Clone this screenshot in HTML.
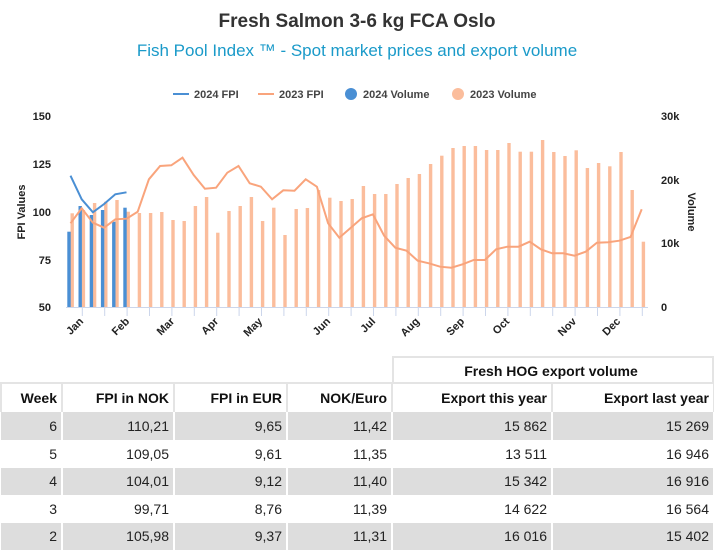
<!DOCTYPE html>
<html><head><meta charset="utf-8"><style>
body{margin:0;width:714px;height:556px;background:#fff;font-family:"Liberation Sans",Arial,sans-serif;position:relative;overflow:hidden}
.c{position:absolute;font-size:14px;color:#222;text-align:right;box-sizing:border-box;padding-right:4px;line-height:27px;border-right:2px solid #e4e4e4}
.h{font-weight:bold;color:#111}
</style></head><body>
<svg id="s" width="714" height="345" style="position:absolute;left:0;top:0" font-family="Liberation Sans, Arial, sans-serif"></svg>
<div id="t"></div>
<script>
var s=document.getElementById('s'),h='';
h+='<text x="357" y="27" text-anchor="middle" font-size="19" font-weight="bold" fill="#333">Fresh Salmon 3-6 kg FCA Oslo</text>';
h+='<text x="357" y="56" text-anchor="middle" font-size="17" fill="#1a9ac9">Fish Pool Index ™ - Spot market prices and export volume</text>';
// legend
h+='<line x1="173" y1="94" x2="189" y2="94" stroke="#4a8fd4" stroke-width="2"/><text x="194" y="98" font-size="11" font-weight="bold" fill="#444">2024 FPI</text>';
h+='<line x1="258" y1="94" x2="274" y2="94" stroke="#f9a47c" stroke-width="2"/><text x="279" y="98" font-size="11" font-weight="bold" fill="#444">2023 FPI</text>';
h+='<circle cx="351" cy="94" r="6" fill="#4a8fd4"/><text x="363" y="98" font-size="11" font-weight="bold" fill="#444">2024 Volume</text>';
h+='<circle cx="458" cy="94" r="6" fill="#fbbd9c"/><text x="470" y="98" font-size="11" font-weight="bold" fill="#444">2023 Volume</text>';
// axes labels
[[150,120],[125,168],[100,216],[75,264],[50,311]].forEach(function(a){h+='<text x="51" y="'+a[1]+'" text-anchor="end" font-size="11" font-weight="bold" fill="#222">'+a[0]+'</text>';});
[['30k',120],['20k',184],['10k',247],['0',311]].forEach(function(a){h+='<text x="661" y="'+a[1]+'" font-size="11" font-weight="bold" fill="#222">'+a[0]+'</text>';});
h+='<text transform="translate(25,212) rotate(-90)" text-anchor="middle" font-size="11" font-weight="bold" fill="#222">FPI Values</text>';
h+='<text transform="translate(688,212) rotate(90)" text-anchor="middle" font-size="11" font-weight="bold" fill="#222">Volume</text>';
// bars 2023
var t23=[213.3,210,203,201.7,200,211.7,213,213,212,220,221,206,197,232.7,211,206,197,221,207.7,235,209,208,190,197.7,201,199,186,194,194,184,178,174,164,155.7,148,146,146,150,150,143,151.7,151.7,140,152,156,150.3,168,163,166.3,152,190,241.7];
t23.forEach(function(y,i){var x=70.5+11.2*i;h+='<rect x="'+x+'" y="'+y+'" width="3.4" height="'+(307-y)+'" fill="#fbbd9c"/>';});
var t24=[231.7,206,215,210,221.7,207.7];
t24.forEach(function(y,i){var x=67.3+11.2*i;h+='<rect x="'+x+'" y="'+y+'" width="3.4" height="'+(307-y)+'" fill="#4a8fd4"/>';});
// axis
h+='<line x1="66" y1="307.5" x2="648" y2="307.5" stroke="#ccd6eb" stroke-width="1"/>';
for(var k=0;k<26;k++){var x=82.3+22.4*k;h+='<line x1="'+x+'" y1="307" x2="'+x+'" y2="316" stroke="#ccd6eb"/>';}
// lines
var l23=[223.3,208.3,222.7,227.7,219.3,218.7,211.7,179.3,166,165.3,157.7,175,188.7,187.7,172.7,166,183.3,186.7,199.3,190.3,190.7,179.3,186.7,223.3,237.7,228,218.3,214.3,235.7,247.7,250.7,260.7,263.3,266.7,267.7,264.3,260,260,249.3,246.7,246.7,241.7,249.3,253.3,253.3,255.7,251.7,242.7,242.3,240.7,237,209.3];
var p=l23.map(function(y,i){return (70.5+11.2*i).toFixed(1)+','+y}).join(' ');
h+='<polyline points="'+p+'" fill="none" stroke="#f9a47c" stroke-width="2"/>';
var l24=[175.7,199.3,212.3,204,194.3,192.3];
p=l24.map(function(y,i){return (70.5+11.2*i).toFixed(1)+','+y}).join(' ');
h+='<polyline points="'+p+'" fill="none" stroke="#4a8fd4" stroke-width="2"/>';
// months
[['Jan',84],['Feb',130],['Mar',175],['Apr',219],['May',263],['Jun',331],['Jul',376],['Aug',420],['Sep',465],['Oct',510],['Nov',577],['Dec',621]].forEach(function(m){
h+='<text transform="translate('+m[1]+',322) rotate(-45)" text-anchor="end" font-size="11" font-weight="bold" fill="#222">'+m[0]+'</text>';});
s.innerHTML=h;
// table
var cols=[0,62,174,287,392,552,714];
var rows=[['Week','FPI in NOK','FPI in EUR','NOK/Euro','Export this year','Export last year'],
['6','110,21','9,65','11,42','15 862','15 269'],['5','109,05','9,61','11,35','13 511','16 946'],
['4','104,01','9,12','11,40','15 342','16 916'],['3','99,71','8,76','11,39','14 622','16 564'],['2','105,98','9,37','11,31','16 016','15 402']];
var ys=[384,412,440,468,495,523,550],o='';
o+='<div class="c h" style="left:392px;top:356px;width:322px;height:28px;text-align:center;border:2px solid #e4e4e4;border-bottom:none;">Fresh HOG export volume</div>';
rows.forEach(function(r,i){
 var bg=(i%2==1)?'#dddddd':'#fff';
 o+='<div style="position:absolute;left:1px;top:'+ys[i]+'px;width:713px;height:'+(ys[i+1]-ys[i])+'px;background:'+bg+'"></div>';
 r.forEach(function(c,j){
  o+='<div class="c'+(i==0?' h':'')+'" style="left:'+(cols[j]+1)+'px;top:'+ys[i]+'px;width:'+(cols[j+1]-cols[j])+'px;height:'+(ys[i+1]-ys[i])+'px;line-height:'+(ys[i+1]-ys[i])+'px;'+(i==0?'':'border-right-color:#fff;')+'">'+c+'</div>';
 });
});
o+='<div style="position:absolute;left:1px;top:382px;width:713px;height:2px;background:#e4e4e4"></div>';
o+='<div style="position:absolute;left:0;top:382px;width:2px;height:30px;background:#e4e4e4"></div>';
document.getElementById('t').innerHTML=o;
</script>
</body></html>
